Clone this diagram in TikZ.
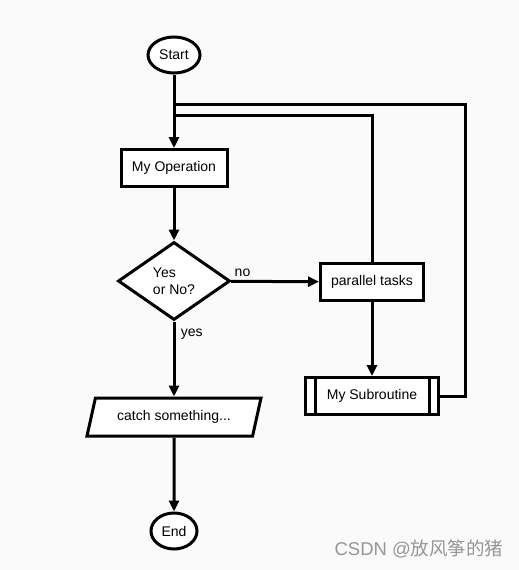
\documentclass[tikz,border=0pt]{standalone}
\usepackage{fontspec}
\setmainfont{Liberation Sans}
\newfontfamily\cjkfont{Noto Sans CJK SC}
\usetikzlibrary{arrows.meta,positioning,shapes.geometric,calc}
\definecolor{bgcol}{RGB}{250,250,250}
\definecolor{markgray}{RGB}{150,150,150}

\begin{document}
\begin{tikzpicture}[x=1pt, y=-1pt,
  term/.style={draw, ellipse, line width=3pt, fill=white, inner sep=0pt,
               minimum width=#1, minimum height=36pt},
  box/.style={draw, line width=3pt, fill=white, inner sep=0pt,
              minimum width=#1, minimum height=37pt},
  dec/.style={draw, diamond, line width=3pt, fill=white, inner sep=0pt,
              minimum width=112pt, minimum height=78pt, align=left},
  io/.style={draw, trapezium, trapezium left angle=65, trapezium right angle=115,
             trapezium stretches=true, line width=3pt, fill=white, inner sep=0pt,
             minimum width=174pt, minimum height=38pt},
  arr/.style={-{Triangle[length=11pt,width=10pt]}, line width=3pt},
  lne/.style={line width=3pt},
  lbl/.style={font=\fontsize{14}{16}\selectfont},
  font=\fontsize{14}{17}\selectfont
]
%% ---- canvas ----
\fill[bgcol] (0,0) rectangle (519,570);
\useasboundingbox (0,0) rectangle (519,570);

%% ---- loop-back junctions ----
\coordinate (j1) at (174,104);
\coordinate (j2) at (174,115);

%% ---- main column ----
\node[term=52pt]    (start) at (174,55)  {Start};
\node[box=106pt]    (op)    at (174,168) {My Operation};
\node[dec]          (ask)   at (174,281) {Yes\\or No?};
\node[io]           (catch) at (174,417) {catch something...};
\node[term=46pt]    (stop)  at (174,531) {End};

%% ---- right column ----
\node[box=103pt]    (par)   at (372,282) {parallel tasks};
\node[box=133pt]    (sub)   at (372,396) {My Subroutine};
\draw[lne] ($(sub.north west)+(11,0)$) -- ($(sub.south west)+(11,0)$);
\draw[lne] ($(sub.north east)+(-11,0)$) -- ($(sub.south east)+(-11,0)$);

%% arrows
\draw[arr] (start) -- (op);
\draw[arr] (op) -- (ask);
\draw[arr] (ask) -- (catch) node[lbl, pos=0.17, right=2pt] {yes};
\draw[arr] (catch) -- (stop);
\draw[arr] (ask) -- (par) node[lbl, pos=0.13, above=0pt] {no};
\draw[arr] (par) -- (sub);

%% loops back to the top
\draw[lne] (sub.east) -- ++(25,0) |- (j1);
\draw[lne] (par.north) |- (j2);

%% watermark
\node[font=\fontsize{18.5}{21}\selectfont, text=markgray] (mark) at (419,549)
  {CSDN @{\cjkfont 放风筝的猪}};

\end{tikzpicture}
\end{document}
